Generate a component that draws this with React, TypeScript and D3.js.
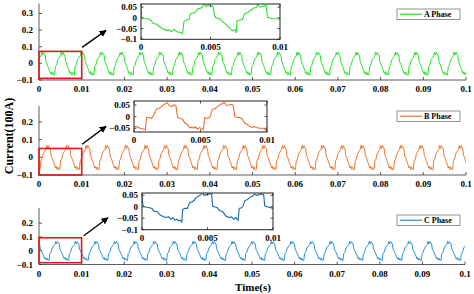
import * as d3 from "d3";

const TIME_TICKS = [0, 0.01, 0.02, 0.03, 0.04, 0.05, 0.06, 0.07, 0.08, 0.09, 0.1];
const INSET_TIME_TICKS = [0, 0.005, 0.01];
const PHASE_NAMES = ["A Phase", "B Phase", "C Phase"];
const PHASE_COLORS = ["#2ee02e", "#f07832", "#2a90dc"];
const INSET_COLORS = ["#2ee02e", "#ee7030", "#1a6aae"];

// one cycle of the steady-state current: [fraction of cycle, current]
const CYCLE: [number, number][] = [
  [0, -0.07], [0.04, -0.02], [0.1, -0.01], [0.16, 0.02], [0.24, 0.035], [0.3, 0.045],
  [0.34, 0.068], [0.38, 0.05], [0.44, 0.066], [0.48, 0.052], [0.52, 0.05], [0.56, 0.01],
  [0.62, -0.005], [0.68, -0.025], [0.74, -0.045], [0.78, -0.06], [0.82, -0.05], [0.86, -0.068],
  [0.9, -0.055], [0.95, -0.07], [1.0, -0.07],
];
const CYCLE_PERIOD = 0.0046;
const PHASE_START = [-0.00094, 0.00026, 0.00236];

// zoomed window 0..10 ms: [time (ms), current]
const INSET_A: [number, number][] = [
  [0, 0.056], [0.05, 0], [0.19, -0.003], [0.55, -0.005], [0.72, -0.012], [0.87, -0.026],
  [1.15, -0.03], [1.27, -0.038], [1.63, -0.053], [1.88, -0.058], [2.04, -0.056], [2.19, -0.065],
  [2.36, -0.053], [2.6, -0.065], [2.84, -0.068], [3.0, -0.073], [3.08, -0.02], [3.2, -0.011],
  [3.44, -0.008], [3.56, 0.02], [3.8, 0.023], [3.97, 0.03], [4.04, 0.041], [4.28, 0.045],
  [4.45, 0.053], [4.54, 0.071], [4.69, 0.053], [4.83, 0.061], [5.0, 0.053], [5.17, 0.056],
  [5.31, 0.008], [5.4, 0], [5.7, -0.005], [5.9, -0.02], [6.1, -0.03], [6.4, -0.05],
  [6.6, -0.06], [6.75, -0.055], [6.85, -0.07], [6.9, -0.015], [7.1, -0.01], [7.3, -0.006],
  [7.45, 0.02], [7.7, 0.025], [7.85, 0.035], [8.1, 0.045], [8.3, 0.05], [8.4, 0.065],
  [8.55, 0.05], [8.8, 0.055], [9.0, 0.058], [9.1, 0.003], [9.4, -0.003], [9.8, -0.004],
  [10, -0.006],
];
const INSET_B: [number, number][] = [
  [0, -0.043], [0.2, -0.043], [0.45, -0.05], [0.7, -0.053], [0.85, -0.057], [0.95, -0.004],
  [1.15, -0.004], [1.33, -0.007], [1.45, 0.004], [1.7, 0.033], [1.9, 0.036], [2.08, 0.043],
  [2.2, 0.05], [2.4, 0.057], [2.5, 0.06], [2.65, 0.047], [2.83, 0.043], [3.0, 0.05],
  [3.15, 0.047], [3.28, -0.004], [3.45, -0.007], [3.65, -0.01], [3.83, -0.029], [4.0, -0.033],
  [4.2, -0.047], [4.4, -0.046], [4.5, -0.05], [4.6, -0.043], [4.75, -0.053], [4.95, -0.047],
  [5.2, -0.057], [5.33, -0.004], [5.5, -0.007], [5.7, -0.004], [5.9, 0.033], [6.08, 0.033],
  [6.25, 0.043], [6.45, 0.05], [6.65, 0.057], [6.8, 0.061], [6.95, 0.047], [7.1, 0.05],
  [7.25, 0.053], [7.45, 0.05], [7.58, 0], [7.75, -0.004], [7.95, -0.004], [8.15, -0.01],
  [8.33, -0.029], [8.5, -0.033], [8.7, -0.043], [8.9, -0.047], [9.0, -0.041], [9.2, -0.047],
  [9.45, -0.05], [9.7, -0.05], [9.9, -0.057], [10, -0.064],
];
const INSET_C: [number, number][] = [
  [0, 0.046], [0.08, 0.003], [0.25, -0.001], [0.58, -0.004], [0.76, -0.007], [0.89, -0.019],
  [1.14, -0.021], [1.39, -0.036], [1.65, -0.044], [1.85, -0.047], [2.03, -0.043], [2.2, -0.054],
  [2.35, -0.047], [2.53, -0.059], [2.66, -0.054], [2.78, -0.061], [2.9, -0.058], [3.04, -0.066],
  [3.11, -0.011], [3.29, -0.007], [3.47, -0.007], [3.62, 0.017], [3.8, 0.021], [3.97, 0.027],
  [4.13, 0.041], [4.3, 0.046], [4.48, 0.053], [4.63, 0.064], [4.73, 0.05], [4.94, 0.053],
  [5.14, 0.056], [5.32, 0.056], [5.39, 0.003], [5.57, -0.001], [5.75, -0.004], [5.9, -0.016],
  [6.15, -0.021], [6.4, -0.04], [6.66, -0.047], [6.84, -0.044], [7.01, -0.054], [7.16, -0.047],
  [7.34, -0.059], [7.42, -0.007], [7.6, -0.004], [7.72, 0.003], [7.85, 0.027], [8.03, 0.031],
  [8.23, 0.041], [8.43, 0.046], [8.61, 0.056], [8.73, 0.05], [8.94, 0.053], [9.11, 0.056],
  [9.29, 0.053], [9.37, 0.003], [9.62, -0.001], [10, -0.007],
];
const INSETS = [INSET_A, INSET_B, INSET_C];

const Y_TICKS = [
  [-0.1, 0, 0.1, 0.2, 0.3],
  [-0.1, 0, 0.1, 0.2],
  [-0.1, 0, 0.1, 0.2],
];
const INSET_Y_TICKS = [
  [-0.1, -0.05, 0, 0.05],
  [-0.05, 0, 0.05],
  [-0.1, -0.05, 0, 0.05],
];
// red zoom box (current range) and arrow [time, current] start/end
const ZOOM_BOX = [[-0.09, 0.072], [-0.1, 0.05], [-0.087, 0.094]];
const ARROWS = [
  [[0.0101, 0.096], [0.0157, 0.198]],
  [[0.0101, 0.074], [0.0157, 0.175]],
  [[0.0105, 0.109], [0.0162, 0.239]],
];

const LAYOUT = [
  { x0: 39, x1: 466, y0: 80, y1: 3.5, yDom: [-0.1, 0.36], ix0: 141, ix1: 280, iy0: 39.3, iy1: 4, iDom: [-0.1, 0.065], legY: 9 },
  { x0: 39, x1: 466, y0: 175, y1: 106, yDom: [-0.1, 0.29], ix0: 134, ix1: 267, iy0: 132, iy1: 101, iDom: [-0.066, 0.067], legY: 111 },
  { x0: 39, x1: 465, y0: 264.5, y1: 208, yDom: [-0.1, 0.31], ix0: 142, ix1: 273, iy0: 229.7, iy1: 193, iDom: [-0.1, 0.06], legY: 215 },
];

const FONT = "'Liberation Serif', 'Times New Roman', serif";
const fmt = (v: number) => String(v).replace("-", "\u2212");

function tiled(start: number) {
  const pts: [number, number][] = [];
  for (let k = -1; start + k * CYCLE_PERIOD <= 0.1 + CYCLE_PERIOD; k++) {
    for (const [f, v] of CYCLE) pts.push([start + (k + f) * CYCLE_PERIOD, v]);
  }
  return pts;
}

function Panel({ i }: { i: number }) {
  const L = LAYOUT[i];
  const x = d3.scaleLinear().domain([0, 0.1]).range([L.x0, L.x1]);
  const y = d3.scaleLinear().domain(L.yDom).range([L.y0, L.y1]);
  const ix = d3.scaleLinear().domain([0, 10]).range([L.ix0, L.ix1]);
  const iy = d3.scaleLinear().domain(L.iDom).range([L.iy0, L.iy1]);
  const mainLine = d3.line<[number, number]>().x((d) => x(d[0])).y((d) => y(d[1]));
  const insetLine = d3.line<[number, number]>().x((d) => ix(d[0])).y((d) => iy(d[1]));
  const axis = "#333";
  const [bLo, bHi] = ZOOM_BOX[i];
  const [a0, a1] = ARROWS[i];
  const insetX = d3.scaleLinear().domain([0, 0.01]).range([L.ix0, L.ix1]);

  return (
    <g>
      <clipPath id={`clip${i}`}>
        <rect x={L.x0} y={L.y1} width={L.x1 - L.x0} height={L.y0 - L.y1} />
      </clipPath>
      <clipPath id={`iclip${i}`}>
        <rect x={L.ix0} y={L.iy1} width={L.ix1 - L.ix0} height={L.iy0 - L.iy1} />
      </clipPath>

      {/* main trace */}
      <path
        d={mainLine(tiled(PHASE_START[i])) ?? ""}
        fill="none"
        stroke={PHASE_COLORS[i]}
        strokeWidth={1}
        clipPath={`url(#clip${i})`}
      />

      {/* main axes */}
      <line x1={L.x0} x2={L.x1} y1={L.y0} y2={L.y0} stroke={axis} strokeWidth={0.8} />
      <line x1={L.x0} x2={L.x0} y1={L.y0} y2={L.y1} stroke={axis} strokeWidth={0.8} />
      {TIME_TICKS.map((t) => (
        <g key={t}>
          <line x1={x(t)} x2={x(t)} y1={L.y0} y2={L.y0 - 3} stroke={axis} strokeWidth={0.8} />
          <text x={x(t)} y={L.y0 + 12} textAnchor="middle" fontSize={9} fontWeight="bold" fontFamily={FONT}>
            {fmt(t)}
          </text>
        </g>
      ))}
      {Y_TICKS[i].map((v) => (
        <g key={v}>
          <line x1={L.x0} x2={L.x0 + 3} y1={y(v)} y2={y(v)} stroke={axis} strokeWidth={0.8} />
          <text x={L.x0 - 6} y={y(v) + 3} textAnchor="end" fontSize={9} fontWeight="bold" fontFamily={FONT}>
            {fmt(v)}
          </text>
        </g>
      ))}

      {/* zoom box and arrow */}
      <rect
        x={x(0)}
        y={y(bHi)}
        width={x(0.01) - x(0)}
        height={y(bLo) - y(bHi)}
        fill="none"
        stroke="#e01818"
        strokeWidth={1.6}
      />
      <line
        x1={x(a0[0])}
        y1={y(a0[1])}
        x2={x(a1[0])}
        y2={y(a1[1])}
        stroke="#000"
        strokeWidth={1.4}
        markerEnd="url(#arrow)"
      />

      {/* inset */}
      <rect x={L.ix0} y={L.iy1} width={L.ix1 - L.ix0} height={L.iy0 - L.iy1} fill="#fff" />
      <path
        d={insetLine(INSETS[i]) ?? ""}
        fill="none"
        stroke={INSET_COLORS[i]}
        strokeWidth={1.1}
        clipPath={`url(#iclip${i})`}
      />
      <rect
        x={L.ix0}
        y={L.iy1}
        width={L.ix1 - L.ix0}
        height={L.iy0 - L.iy1}
        fill="none"
        stroke="#222"
        strokeWidth={1}
      />
      {INSET_TIME_TICKS.map((t) => (
        <g key={t}>
          <line x1={insetX(t)} x2={insetX(t)} y1={L.iy0} y2={L.iy0 - 2.5} stroke="#222" strokeWidth={0.8} />
          <line x1={insetX(t)} x2={insetX(t)} y1={L.iy1} y2={L.iy1 + 2.5} stroke="#222" strokeWidth={0.8} />
          <text x={insetX(t)} y={L.iy0 + 11} textAnchor="middle" fontSize={9} fontWeight="bold" fontFamily={FONT}>
            {fmt(t)}
          </text>
        </g>
      ))}
      {INSET_Y_TICKS[i].map((v) => (
        <g key={v}>
          <line x1={L.ix0} x2={L.ix0 + 2.5} y1={iy(v)} y2={iy(v)} stroke="#222" strokeWidth={0.8} />
          <line x1={L.ix1} x2={L.ix1 - 2.5} y1={iy(v)} y2={iy(v)} stroke="#222" strokeWidth={0.8} />
          <text x={L.ix0 - 4} y={iy(v) + 3} textAnchor="end" fontSize={9} fontWeight="bold" fontFamily={FONT}>
            {fmt(v)}
          </text>
        </g>
      ))}

      {/* legend */}
      <g transform={`translate(397,${L.legY})`}>
        <rect x={0} y={0} width={63} height={10.5} fill="#fff" stroke="#777" strokeWidth={0.8} />
        <line x1={3} x2={25} y1={5.25} y2={5.25} stroke={PHASE_COLORS[i]} strokeWidth={1.2} />
        <text x={27} y={8.2} fontSize={8} fontWeight="bold" fontFamily={FONT}>
          {PHASE_NAMES[i]}
        </text>
      </g>
    </g>
  );
}

export default function App() {
  return (
    <svg
      width={474}
      height={294}
      style={{ position: "absolute", left: 0, top: 0, background: "#fff" }}
    >
      <defs>
        <marker id="arrow" viewBox="0 0 10 10" refX={9} refY={5} markerWidth={5} markerHeight={5} orient="auto">
          <path d="M0,0 L10,5 L0,10 z" fill="#000" />
        </marker>
      </defs>
      {[0, 1, 2].map((i) => (
        <Panel key={i} i={i} />
      ))}
      <text
        transform="translate(13,136) rotate(-90)"
        textAnchor="middle"
        fontSize={12}
        fontWeight="bold"
        fontFamily={FONT}
      >
        Current(100A)
      </text>
      <text x={253} y={291} textAnchor="middle" fontSize={11} fontWeight="bold" fontFamily={FONT}>
        Time(s)
      </text>
    </svg>
  );
}
